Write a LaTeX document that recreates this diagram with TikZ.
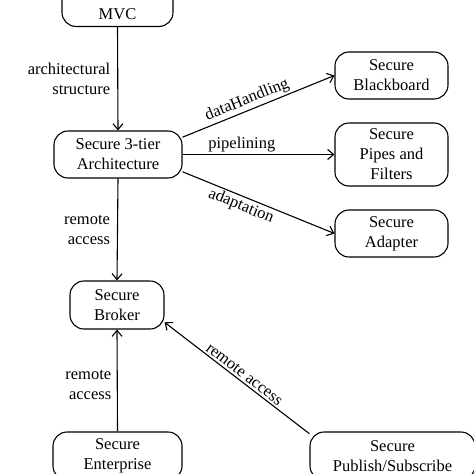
\documentclass[tikz,border=0pt]{standalone}
\usepackage{fontspec}
\setmainfont{Liberation Serif}
\usetikzlibrary{arrows.meta}
\begin{document}
\begin{tikzpicture}[x=1pt,y=-1pt,
  every node/.style={font=\fontsize{16.5}{20}\selectfont},
  box/.style={draw, line width=1.1pt, rounded corners=14pt, align=center, inner xsep=4pt, inner ysep=3pt},
  tip/.style={Straight Barb[length=6pt,width=10pt]},
  conn/.style={line width=1.1pt, -{Straight Barb[length=6pt,width=10pt]}},
  lbl/.style={inner sep=2pt, align=right}]
\useasboundingbox (0,0) rectangle (474,474);
\fill[white] (0,0) rectangle (474,474);
\clip (0,0) rectangle (474,474);
% boxes
\node[box, anchor=south, minimum width=111pt, text height=38pt, text depth=4pt] (mvc) at (117.5,27) {MVC};
\node[box, minimum width=128pt, minimum height=47pt] (tier) at (118,154.5) {Secure 3-tier\\Architecture};
\node[box, minimum width=113pt, minimum height=47pt] (bb) at (391.5,75.5) {Secure\\Blackboard};
\node[box, minimum width=113pt, minimum height=63pt] (pipes) at (391.5,154.5) {Secure\\Pipes and\\Filters};
\node[box, minimum width=113pt, minimum height=47pt] (adapter) at (391.5,233.5) {Secure\\Adapter};
\node[box, minimum width=94pt, minimum height=48pt] (broker) at (117,305) {Secure\\Broker};
\node[box, minimum width=129pt, minimum height=48pt] (enterprise) at (117.5,456) {Secure\\Enterprise};
\node[box, minimum width=165pt, minimum height=48pt] (pubsub) at (392.5,456) {Secure\\Publish/Subscribe};
% connectors
\draw[conn] (mvc.south) -- node[lbl, left=5pt] (l1) {architectural\\structure} (tier.north);
\draw[conn] (tier.15) -- node[sloped, above, pos=0.45, inner sep=2pt] (l2) {dataHandling} (bb.west);
\draw[conn] (tier.east) -- node[above, pos=0.39, inner sep=2pt] (l3) {pipelining} (pipes.west);
\draw[conn] (tier.-15) -- node[sloped, below, pos=0.41, inner sep=2pt] (l4) {adaptation} (adapter.west);
\draw[conn] (tier.south) -- node[lbl, left=5pt] (l5) {remote\\access} (broker.north);
\draw[conn] (enterprise.north) -- node[lbl, left=3.5pt, pos=0.46] (l6) {remote\\access} (broker.south);
\draw[line width=1.1pt, {Straight Barb[length=6pt,width=10pt]}-] (broker.-20) -- node[sloped, above, pos=0.52, inner sep=2pt] (l7) {remote access} (pubsub.165);
\end{tikzpicture}
\end{document}
